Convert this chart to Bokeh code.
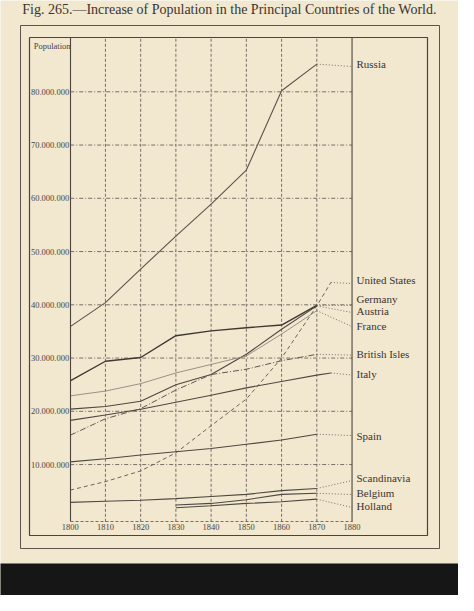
from bokeh.plotting import figure
from bokeh.models import Range1d, LinearAxis, FixedTicker
from bokeh.core.properties import value
from bokeh.embed import file_html
from bokeh.resources import INLINE

# ---------------- data (millions of inhabitants) ----------------
years = [1800, 1810, 1820, 1830, 1840, 1850, 1860, 1870]
years_ext = [1800, 1810, 1820, 1830, 1840, 1850, 1860, 1870, 1874]
years_late = [1830, 1840, 1850, 1860, 1870]

russia = [35.9, 40.4, 46.7, 52.9, 58.9, 65.3, 80.2, 85.2]
united_states = [5.2, 6.8, 8.8, 12.2, 17.3, 22.3, 30.0, 39.8, 44.2]
germany = [25.7, 29.4, 30.1, 34.2, 35.1, 35.7, 36.2, 39.9]
austria = [20.4, 20.9, 21.9, 25.0, 26.9, 30.7, 35.4, 39.8]
france = [22.9, 23.8, 25.2, 27.2, 28.8, 30.4, 34.5, 38.9]
british_isles = [15.5, 18.6, 20.5, 24.0, 26.9, 27.9, 29.5, 30.7]
italy = [18.3, 19.3, 20.4, 21.7, 23.0, 24.4, 25.6, 26.8, 27.2]
spain = [10.5, 11.1, 11.8, 12.4, 13.0, 13.8, 14.6, 15.7]
scandinavia = [2.9, 3.1, 3.3, 3.6, 4.0, 4.4, 5.1, 5.5]
belgium = [2.4, 2.7, 3.4, 4.4, 4.6]
holland = [1.9, 2.25, 2.7, 3.0, 3.5]

names = ["Russia", "United States", "Germany", "Austria", "France",
         "British Isles", "Italy", "Spain", "Scandinavia", "Belgium", "Holland"]
series_x = [years, years_ext, years, years, years, years, years_ext,
            years, years, years_late, years_late]
series_y = [russia, united_states, germany, austria, france, british_isles,
            italy, spain, scandinavia, belgium, holland]

# label positions on the right (millions) and where the dotted leaders end
label_m = [85.3, 44.75, 41.0, 38.75, 36.1, 30.7, 27.0, 15.45, 7.4, 4.75, 2.3]
leader_m = [84.75, 44.0, 39.9, 38.55, 35.9, 30.55, 26.8, 15.45, 7.0, 4.37, 1.94]

y_ticks = [10_000_000, 20_000_000, 30_000_000, 40_000_000,
           50_000_000, 60_000_000, 70_000_000, 80_000_000]
y_tick_labels = ["10.000.000", "20.000.000", "30.000.000", "40.000.000",
                 "50.000.000", "60.000.000", "70.000.000", "80.000.000"]
x_ticks = [1800, 1810, 1820, 1830, 1840, 1850, 1860, 1870, 1880]
x_tick_labels = ["1800", "1810", "1820", "1830", "1840", "1850", "1860", "1870", "1880"]

title = "Fig. 265.\u2014Increase of Population in the Principal Countries of the World."

# ---------------- geometry / style ----------------
W, H = 458, 595
PAPER = "#f2e7cf"
INK = "#4a443d"
GRID = "#6a635b"
FONT = "Liberation Serif"

X0, XPY = 77.7, 3.523      # page px of 1800, px per year
Y0, YPM = 525.3, 5.325     # page px of 0, px per million


def yr_at(px):
    return 1800 + (px - X0) / XPY


def val_at(py):
    return (Y0 - py) / YPM * 1e6


p = figure(width=W, height=H,
           x_range=Range1d(yr_at(8), yr_at(8 + W)),
           y_range=Range1d(val_at(8 + H), val_at(8)),
           output_backend="svg", toolbar_location=None,
           x_axis_type=None, y_axis_type=None, min_border=0)
p.outline_line_color = None
p.background_fill_color = PAPER
p.border_fill_color = PAPER

x_lo, x_hi = x_ticks[0], x_ticks[-1]
y_top = val_at(45)
y_bot = val_at(529.3)

# frames
p.quad(left=[yr_at(28)], right=[yr_at(447)], top=[val_at(33)], bottom=[val_at(556)],
       fill_color=None, line_color=INK, line_width=0.9)
p.quad(left=[yr_at(37)], right=[yr_at(435)], top=[val_at(45)], bottom=[val_at(543)],
       fill_color=None, line_color=INK, line_width=1.2)
# dark band at the bottom of the photograph
p.quad(left=[yr_at(0)], right=[yr_at(480)], top=[val_at(571)], bottom=[val_at(620)],
       fill_color="#161616", line_color=None)

# grid
inner_x = x_ticks[1:-1]
p.segment(x0=inner_x, x1=inner_x, y0=[y_bot] * len(inner_x), y1=[y_top] * len(inner_x),
          line_color=GRID, line_width=0.9, line_dash="3 2")
p.segment(x0=[x_lo] * len(y_ticks), x1=[x_hi] * len(y_ticks), y0=y_ticks, y1=y_ticks,
          line_color=GRID, line_width=0.9, line_dash="4 2 1 2")
p.segment(x0=[x_hi], x1=[x_hi], y0=[y_bot], y1=[y_top], line_color=INK, line_width=1.1)

# axes drawn inside the frame
yax = LinearAxis(fixed_location=x_lo, ticker=FixedTicker(ticks=y_ticks),
                 bounds=(y_bot, y_top))
yax.major_label_overrides = dict(zip(y_ticks, y_tick_labels))
yax.major_tick_in = 0
yax.major_tick_out = 0
yax.minor_tick_in = 0
yax.minor_tick_out = 0
yax.major_label_standoff = 1
yax.axis_line_color = INK
yax.axis_line_width = 1.1
yax.major_label_text_font = FONT
yax.major_label_text_font_size = "8.5px"
yax.major_label_text_color = INK
p.add_layout(yax, "left")

xax = LinearAxis(fixed_location=y_bot, ticker=FixedTicker(ticks=x_ticks),
                 bounds=(x_lo, x_hi))
xax.major_label_overrides = dict(zip(x_ticks, x_tick_labels))
xax.major_tick_in = 0
xax.major_tick_out = 0
xax.minor_tick_in = 0
xax.minor_tick_out = 0
xax.major_label_standoff = 2
xax.axis_line_color = GRID
xax.axis_line_width = 0.9
xax.axis_line_dash = "3 2"
xax.major_label_text_font = FONT
xax.major_label_text_font_size = "8.5px"
xax.major_label_text_color = INK
p.add_layout(xax, "below")

# series
styles = {
    "Russia": dict(line_color="#5a544d", line_width=1.1),
    "United States": dict(line_color="#6a645c", line_width=1.0, line_dash="4 3"),
    "Germany": dict(line_color="#3e3933", line_width=1.4),
    "Austria": dict(line_color="#4e4842", line_width=1.1),
    "France": dict(line_color="#8f887f", line_width=0.9),
    "British Isles": dict(line_color="#5e5851", line_width=1.0, line_dash="6 2 1 2"),
    "Italy": dict(line_color="#4e4842", line_width=1.1),
    "Spain": dict(line_color="#4e4842", line_width=1.1),
    "Scandinavia": dict(line_color="#4e4842", line_width=1.1),
    "Belgium": dict(line_color="#4e4842", line_width=1.1),
    "Holland": dict(line_color="#4e4842", line_width=1.1),
}
for name, xs, ys in zip(names, series_x, series_y):
    p.line(xs, [v * 1e6 for v in ys], **styles[name])

# dotted leaders and labels
for xs, ys, lm in zip(series_x, series_y, leader_m):
    p.line([xs[-1], x_hi], [ys[-1] * 1e6, lm * 1e6],
           line_color=GRID, line_width=0.9, line_dash="1 2")

p.text(x=[yr_at(364)] * len(names), y=[v * 1e6 for v in label_m], text=names,
       text_font=value(FONT), text_font_size="11px", text_color="#3a352f",
       text_baseline="middle", text_align="left")

p.text(x=[yr_at(78)], y=[val_at(53)], text=["Population"],
       text_font=value(FONT), text_font_size="8.5px", text_color=INK,
       text_baseline="middle", text_align="right")

p.text(x=[yr_at(237)], y=[val_at(17)], text=[title],
       text_font=value(FONT), text_font_size="14px", text_color="#3a352f",
       text_baseline="middle", text_align="center")

open("out.html", "w").write(file_html(p, INLINE))
